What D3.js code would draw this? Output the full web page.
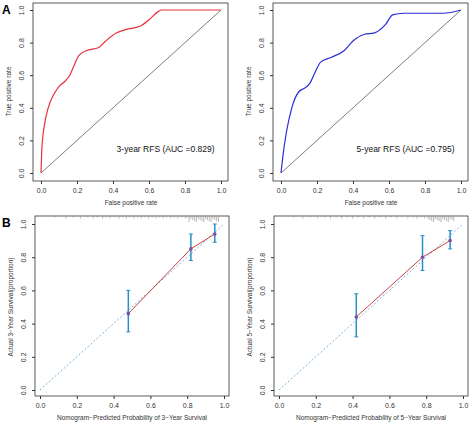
<!DOCTYPE html><html><head><meta charset="utf-8"><script src="https://d3js.org/d3.v7.min.js"></script>
<style>body{margin:0;background:#fff}text{font-family:Arial,"Liberation Sans",sans-serif}</style></head><body><svg id="c" width="474" height="427"></svg>
<script>
const ticks=[0,0.2,0.4,0.6,0.8,1.0];
const roc3=[[0,0],[0.005,0.15],[0.02,0.3],[0.04,0.4],[0.07,0.48],[0.1,0.53],[0.13,0.56],[0.16,0.6],[0.18,0.65],[0.21,0.72],[0.25,0.75],[0.32,0.77],[0.36,0.81],[0.42,0.86],[0.47,0.88],[0.55,0.9],[0.6,0.94],[0.65,0.99],[0.67,1],[1,1]];
const roc5=[[0,0],[0.01,0.1],[0.03,0.25],[0.06,0.4],[0.1,0.5],[0.13,0.52],[0.16,0.55],[0.19,0.62],[0.22,0.68],[0.28,0.71],[0.35,0.75],[0.4,0.81],[0.46,0.85],[0.52,0.86],[0.58,0.91],[0.62,0.97],[0.68,0.98],[0.9,0.98],[1,1]];
const cal3=[{x:0.48,y:0.46,lo:0.35,hi:0.60},{x:0.82,y:0.85,lo:0.78,hi:0.94},{x:0.95,y:0.94,lo:0.89,hi:1.0}];
const cal5=[{x:0.42,y:0.44,lo:0.32,hi:0.58},{x:0.78,y:0.80,lo:0.72,hi:0.93},{x:0.93,y:0.90,lo:0.85,hi:0.96}];
const rug3=[0.08,0.14,0.18,0.22,0.26,0.29,0.31,0.34,0.36,0.38,0.41,0.43,0.45,0.47,0.49,0.51,0.53,0.55,0.57,0.59,0.61,0.63,0.65,0.67,0.69,0.71,0.73,0.75,0.77,0.79,0.8,0.81,0.82,0.83,0.84,0.85,0.86,0.87,0.88,0.89,0.9,0.91,0.92,0.93,0.94,0.95,0.96,0.97];
const rug5=[0.08,0.13,0.17,0.21,0.25,0.28,0.31,0.34,0.37,0.4,0.43,0.46,0.49,0.52,0.55,0.58,0.61,0.64,0.67,0.7,0.73,0.75,0.77,0.79,0.81,0.82,0.83,0.84,0.85,0.86,0.87,0.88,0.89,0.9,0.91,0.92,0.93,0.94,0.95];
const svg=d3.select("#c");
function frame(bx,by,bw,bh,x0,x1,y0,y1,xt,yt){
  const g=svg.append("g");
  const x=d3.scaleLinear().domain([0,1]).range([x0,x1]);
  const y=d3.scaleLinear().domain([0,1]).range([y0,y1]);
  g.append("rect").attr("x",bx).attr("y",by).attr("width",bw).attr("height",bh).attr("fill","none").attr("stroke","#333").attr("stroke-width",0.8);
  const ax=g.append("g").attr("transform",`translate(0,${by+bh})`).call(d3.axisBottom(x).tickValues(ticks).tickFormat(d3.format(".1f")).tickSize(3).tickPadding(4));
  const ay=g.append("g").attr("transform",`translate(${bx},0)`).call(d3.axisLeft(y).tickValues(ticks).tickFormat(d3.format(".1f")).tickSize(3).tickPadding(3));
  ax.select(".domain").remove();ay.select(".domain").remove();
  [ax,ay].forEach(a=>{a.selectAll("text").attr("font-size",7).attr("fill","#333");a.selectAll("line").attr("stroke","#333");});
  ay.selectAll(".tick text").attr("text-anchor","middle").attr("transform","rotate(-90)").attr("x",0).attr("y",-9).attr("dy","0");
  g.append("text").attr("x",(x0+x1)/2).attr("y",by+bh+24).attr("text-anchor","middle").attr("font-size",6.5).attr("fill","#333").text(xt);
  g.append("text").attr("transform",`translate(${bx-22},${(y0+y1)/2}) rotate(-90)`).attr("text-anchor","middle").attr("font-size",6.5).attr("fill","#333").text(yt);
  return {g,x,y};
}
function roc(off,data,col,lab){
  const f=frame(33+off,3,195,178,41+off,221+off,173,10,"False positive rate","True positive rate");
  f.g.append("line").attr("x1",f.x(0)).attr("y1",f.y(0)).attr("x2",f.x(1)).attr("y2",f.y(1)).attr("stroke","#444").attr("stroke-width",0.7);
  f.g.append("path").datum(data).attr("d",d3.line().x(d=>f.x(d[0])).y(d=>f.y(d[1])).curve(d3.curveMonotoneX)).attr("fill","none").attr("stroke",col).attr("stroke-width",1.2);
  f.g.append("text").attr("x",f.x(0.42)).attr("y",f.y(0.13)).attr("font-size",8.5).attr("fill","#111").text(lab);
}
roc(0,roc3,"#e8333a","3-year RFS (AUC =0.829)");
roc(240,roc5,"#2b2bd6","5-year RFS (AUC =0.795)");
function cal(off,data,rug,xt,yt){
  const f=frame(35+off,216,194,180,40+off,224+off,390,224,xt,yt);
  f.g.append("line").attr("x1",f.x(0)).attr("y1",f.y(0)).attr("x2",f.x(1)).attr("y2",f.y(1)).attr("stroke","#5a9fd0").attr("stroke-width",0.8).attr("stroke-dasharray","2,2");
  f.g.selectAll(".rug").data(rug).join("line").attr("x1",d=>f.x(d)).attr("x2",d=>f.x(d)).attr("y1",216).attr("y2",(d,i)=>216+(d>0.8?3+(i%4):1.5+(i%2))).attr("stroke","#999").attr("stroke-width",0.7);
  f.g.append("path").datum(data).attr("d",d3.line().x(d=>f.x(d.x)).y(d=>f.y(d.y))).attr("fill","none").attr("stroke","#d04040").attr("stroke-width",1);
  const e=f.g.selectAll(".e").data(data).join("g");
  e.append("line").attr("x1",d=>f.x(d.x)).attr("x2",d=>f.x(d.x)).attr("y1",d=>f.y(d.lo)).attr("y2",d=>f.y(d.hi)).attr("stroke","#2a8fc8").attr("stroke-width",1.5);
  ["lo","hi"].forEach(k=>e.append("line").attr("x1",d=>f.x(d.x)-2).attr("x2",d=>f.x(d.x)+2).attr("y1",d=>f.y(d[k])).attr("y2",d=>f.y(d[k])).attr("stroke","#2a8fc8").attr("stroke-width",1));
  e.append("circle").attr("cx",d=>f.x(d.x)).attr("cy",d=>f.y(d.y)).attr("r",1.8).attr("fill","#7a4fa0");
}
cal(0,cal3,rug3,"Nomogram\u2212Predicted Probability of 3\u2212Year Survival","Actual 3\u2212Year Survival(proportion)");
cal(239,cal5,rug5,"Nomogram\u2212Predicted Probability of 5\u2212Year Survival","Actual 5\u2212Year Survival(proportion)");
svg.append("text").attr("x",2).attr("y",14).attr("font-size",12).attr("font-weight","bold").text("A");
svg.append("text").attr("x",2).attr("y",227).attr("font-size",12).attr("font-weight","bold").text("B");
</script></body></html>
